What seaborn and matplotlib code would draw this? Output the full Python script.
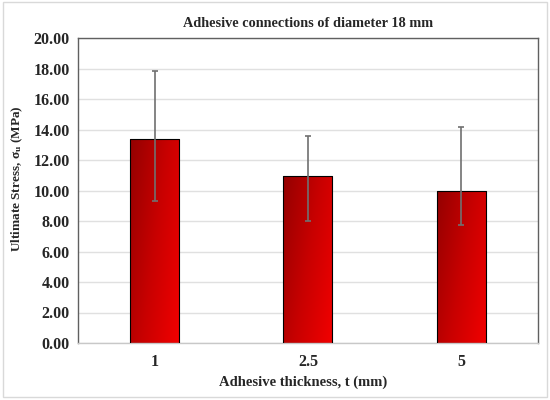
import numpy as np
import pandas as pd
import matplotlib
matplotlib.use('Agg')
import matplotlib.pyplot as plt
import seaborn as sns
from matplotlib.colors import LinearSegmentedColormap
from matplotlib.patches import Rectangle

# data
thickness = ["1", "2.5", "5"]
stress = [13.35, 10.95, 10.00]
err_low = [4.07, 2.93, 2.28]
err_high = [4.49, 2.62, 4.19]
y_ticks = [0, 2, 4, 6, 8, 10, 12, 14, 16, 18, 20]

sns.set_theme(style="white")
plt.rcParams['font.family'] = ['Liberation Serif', 'DejaVu Serif']
plt.rcParams['font.weight'] = 'bold'
plt.rcParams['mathtext.fontset'] = 'custom'
plt.rcParams['mathtext.rm'] = 'Liberation Serif:bold'
plt.rcParams['mathtext.it'] = 'Liberation Serif:bold'
plt.rcParams['mathtext.bf'] = 'Liberation Serif:bold'

df = pd.DataFrame({"t": thickness, "stress": stress})

fig = plt.figure(figsize=(5.5, 4), dpi=100)
ax = fig.add_axes([0.1418, 0.1425, 0.8362, 0.7625])

sns.barplot(data=df, x="t", y="stress", ax=ax, width=0.32,
            color="#c00000", edgecolor="black", linewidth=0.8, zorder=2)

# gradient fill, clipped to each bar
cmap = LinearSegmentedColormap.from_list("red_grad", ["#940000", "#c80000", "#f20000"])
gx, gy = np.meshgrid(np.linspace(0, 1, 64), np.linspace(0, 1, 64))
grad = 0.65 * gx + 0.35 * gy
for bar in ax.patches:
    x0, y0 = bar.get_x(), bar.get_y()
    w, h = bar.get_width(), bar.get_height()
    im = ax.imshow(grad, cmap=cmap, extent=[x0, x0 + w, y0, y0 + h],
                   origin="upper", aspect="auto", zorder=2.5)
    im.set_clip_path(bar)
    bar.set_facecolor("none")
    bar.set_zorder(3)

ax.errorbar(range(len(stress)), stress, yerr=[err_low, err_high], fmt="none",
            ecolor="#707070", elinewidth=1.2, capsize=2.5, capthick=1.2, zorder=4)

ax.set_xlim(-0.5, 2.5)
ax.set_ylim(0, 20)
ax.set_yticks(y_ticks)
ax.set_yticklabels([f"{v:.2f}" for v in y_ticks], fontsize=11.5, fontweight="bold")
ax.set_xticklabels(thickness, fontsize=11.5, fontweight="bold")
ax.tick_params(axis="both", length=0, pad=6)
ax.tick_params(axis="x", pad=8)
ax.yaxis.grid(True, color="#e0e0e0", linewidth=1.0, zorder=0)
ax.set_axisbelow(True)

for side in ["top", "left", "right"]:
    ax.spines[side].set_color("#606060")
    ax.spines[side].set_linewidth(1.0)
ax.spines["bottom"].set_color("#c8c8c8")
ax.spines["bottom"].set_linewidth(1.0)

ax.set_title("Adhesive connections of diameter 18 mm", fontsize=10.3, fontweight="bold", pad=8)
ax.set_xlabel("Adhesive thickness, t (mm)", fontsize=10.5, fontweight="bold")
ax.set_ylabel(r"Ultimate Stress, σ$_{\mathrm{u}}$ (MPa)", fontsize=9.5, fontweight="bold")
ax.xaxis.set_label_coords(0.49, -0.107)
ax.yaxis.set_label_coords(-0.115, 0.539)

fig.patches.append(Rectangle((0.006, 0.008), 0.988, 0.986, transform=fig.transFigure,
                             fill=False, edgecolor="#d9d9d9", linewidth=1.0))

fig.savefig("out.png", dpi=100)
